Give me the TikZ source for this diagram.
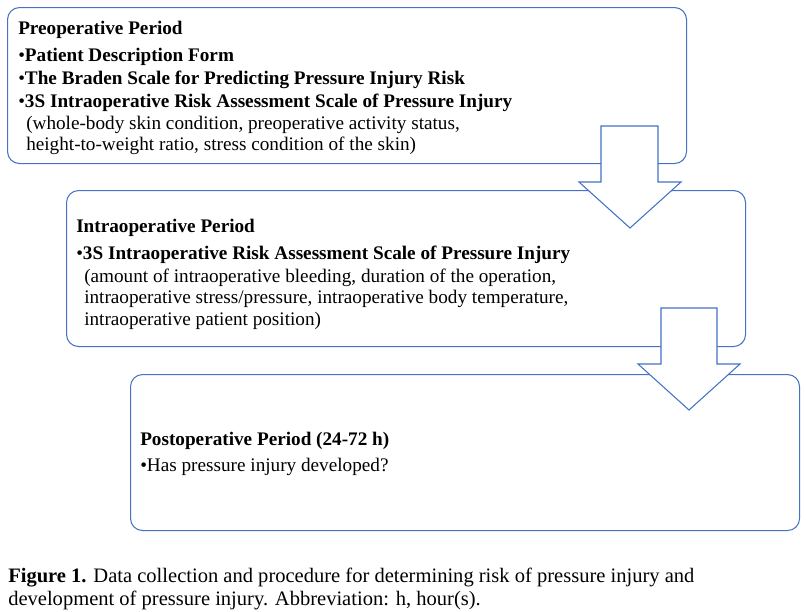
\documentclass[tikz,border=0pt]{standalone}
\usepackage{fontspec}
\setmainfont{Liberation Serif}
\definecolor{boxblue}{HTML}{4472C4}
\tikzset{
  period/.style={draw=boxblue,thick,rounded corners=9pt,anchor=north west,inner sep=0pt},
  txt/.style={anchor=west,inner sep=0pt,font=\fontsize{14.4}{16}\selectfont},
  captxt/.style={anchor=west,inner sep=0pt,font=\fontsize{15.4}{17}\selectfont},
  downarrow/.style={draw=boxblue,thick,fill=white}
}
\begin{document}
\begin{tikzpicture}[x=0.75pt,y=-0.75pt]
\useasboundingbox (0,0) rectangle (806,611);
% boxes
\node[period,minimum width=679*0.75pt,minimum height=156*0.75pt] (pre) at (7,7) {};
\node[period,minimum width=679*0.75pt,minimum height=156*0.75pt] (intra) at (66,190) {};
\node[period,minimum width=669*0.75pt,minimum height=156*0.75pt] (post) at (130,374) {};
% arrows
\draw[downarrow] (601,126) -- (658,126) -- (658,182) -- (681,182) -- (630,228) -- (579,182) -- (601,182) -- cycle;
\draw[downarrow] (661,308) -- (717,308) -- (717,364) -- (740,364) -- (689,410) -- (638,364) -- (661,364) -- cycle;
% preoperative
\node[txt] (pret) at (18,30) {\textbf{Preoperative Period}};
\node[txt] (pre1) at (18,57) {•\textbf{Patient Description Form}};
\node[txt] (pre2) at (18,80) {•\textbf{The Braden Scale for Predicting Pressure Injury Risk}};
\node[txt] (pre3) at (18,103) {•\textbf{3S Intraoperative Risk Assessment Scale of Pressure Injury}};
\node[txt] (pre4) at (26,125) {(whole-body skin condition, preoperative activity status,};
\node[txt] (pre5) at (26,146) {height-to-weight ratio, stress condition of the skin)};
% intraoperative
\node[txt] (intrat) at (76,228) {\textbf{Intraoperative Period}};
\node[txt] (intra1) at (76,255) {•\textbf{3S Intraoperative Risk Assessment Scale of Pressure Injury}};
\node[txt] (intra2) at (84,278) {(amount of intraoperative bleeding, duration of the operation,};
\node[txt] (intra3) at (84,299) {intraoperative stress/pressure, intraoperative body temperature,};
\node[txt] (intra4) at (84,321) {intraoperative patient position)};
% postoperative
\node[txt] (postt) at (140,441) {\textbf{Postoperative Period (24-72 h)}};
\node[txt] (post1) at (140,467) {•Has pressure injury developed?};
% caption
\node[captxt] (cap1) at (8,578) {\textbf{Figure 1.} Data collection and procedure for determining risk of pressure injury and};
\node[captxt] (cap2) at (8,600) {development of pressure injury. Abbreviation: h, hour(s).};
\end{tikzpicture}
\end{document}
